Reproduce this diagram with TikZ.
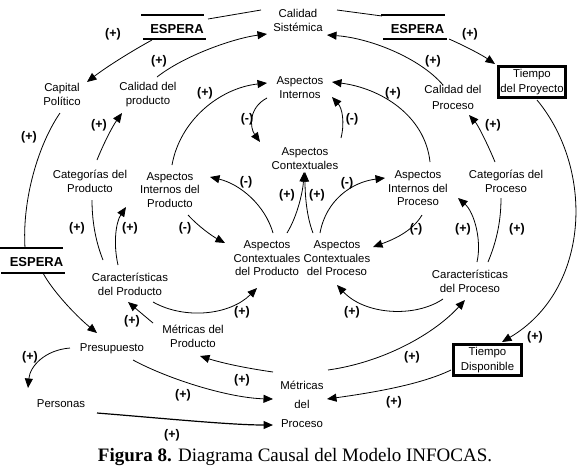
\documentclass[tikz,border=0pt]{standalone}
\usepackage{fontspec}
\setmainfont{Liberation Sans}
\newfontfamily\capfont{Liberation Serif}
\usetikzlibrary{arrows.meta,calc}
\tikzset{
  lbl/.style={align=center, inner sep=0pt, font=\fontsize{11.4}{14}\selectfont},
  lbltight/.style={lbl, font=\fontsize{11.4}{13.5}\selectfont},
  sgn/.style={inner sep=0pt, font=\bfseries\fontsize{12.5}{14}\selectfont},
  esp/.style={inner sep=0pt, font=\bfseries\fontsize{13}{15}\selectfont},
  bar/.style={line width=2.5pt},
  con/.style={line width=0.8pt},
  arr/.style={con, -{Triangle[length=9.5pt,width=8pt]}},
  tbox/.style={draw, line width=3pt, inner sep=0pt, align=center,
    font=\fontsize{11.4}{15}\selectfont, minimum width=67pt, minimum height=31pt},
}
\begin{document}
\begin{tikzpicture}[x=1pt,y=-1pt]
\useasboundingbox[fill=white] (0,0) rectangle (580,475);

% nodes
\node[lbl] (cs) at (298,20) {Calidad\\Sistémica};
\node[lbl] (cp) at (62,94.5) {Capital\\Político};
\node[lbl] (cpr) at (148,94.5) {Calidad del\\producto};
\node[lbl, font=\fontsize{11.4}{16}\selectfont] (cpc) at (453,97.5) {Calidad del\\Proceso};
\node[tbox] (tp) at (532,82) {Tiempo\\del Proyecto};
\node[lbl] (ai) at (300,88) {Aspectos\\Internos};
\node[lbl] (ac) at (305,159) {Aspectos\\Contextuales};
\node[lbltight] (aip) at (170,190) {Aspectos\\Internos del\\Producto};
\node[lbl] (catp) at (90,181.5) {Categorías del\\Producto};
\node[lbl] (carp) at (130,284.5) {Características\\del Producto};
\node[lbltight] (acp) at (267,258.5) {Aspectos\\Contextuales\\del Producto};
\node[lbltight] (acpc) at (337,258.5) {Aspectos\\Contextuales\\del Proceso};
\node[lbltight] (aipc) at (418,188.5) {Aspectos\\Internos del\\Proceso};
\node[lbl] (catpc) at (506,181.5) {Categorías del\\Proceso};
\node[lbl] (carpc) at (470,281.5) {Características\\del Proceso};
\node[lbl] (mp) at (193,336.5) {Métricas del\\Producto};
\node[lbl] (pres) at (112,349) {Presupuesto};
\node[lbl] (pers) at (61,404) {Personas};
\node[lbl, font=\fontsize{11.4}{19}\selectfont] (mpc) at (302,404) {Métricas\\del\\Proceso};
\node[tbox, line width=2.8pt, minimum width=68pt, minimum height=31pt] (td) at (487.5,360) {Tiempo\\Disponible};

% ESPERA delays
\node[esp] (e1) at (177,29) {ESPERA};
\node[esp] (e2) at (417.5,29) {ESPERA};
\node[esp] (e3) at (36.5,262) {ESPERA};
\draw[bar] ($(e1)+(-36,-14)$) -- ($(e1)+(27,-14)$);
\draw[bar] ($(e1)+(-34,10)$) -- ($(e1)+(29,10)$);
\draw[bar] ($(e2)+(-36.5,-14)$) -- ($(e2)+(27.5,-14)$);
\draw[bar] ($(e2)+(-34.5,10)$) -- ($(e2)+(29.5,10)$);
\draw[bar] ($(e3)+(-36.5,-14)$) -- ($(e3)+(26.5,-14)$);
\draw[bar] ($(e3)+(-35.5,11)$) -- ($(e3)+(28.5,11)$);

% connectors
\draw[con] ($(cs)+(-37,-10)$) -- ($(e1)+(31,-10)$);
\draw[arr] ($(e1)+(-25,11)$) .. controls (130,52) and (105,68) .. ($(cp)+(25,-12.5)$);
\draw[con] ($(cs)+(39,-10)$) -- ($(e2)+(-35.5,-13)$);
\draw[arr] ($(e2)+(31.5,10)$) .. controls (465,46) and (482,55) .. ($(tp)+(-37,-18)$);
\draw[arr] ($(cpr)+(9,-17.5)$) .. controls (185,55) and (235,38) .. ($(cs)+(-31,14)$);
\draw[arr] ($(cpc)+(-10,-12.5)$) .. controls (420,58) and (370,38) .. ($(cs)+(29,15)$);
\draw[con] ($(cp)+(-2,18.5)$) .. controls (38,145) and (22,200) .. ($(e3)+(-11.5,-14)$);
\draw[arr] ($(e3)+(6.5,11)$) .. controls (52,290) and (75,315) .. ($(pres)+(-15,-16)$);
\draw[arr] ($(catp)+(7,-21.5)$) .. controls (103,145) and (112,127) .. ($(cpr)+(-26,18.5)$);
\draw[con] ($(catp)+(2,18.5)$) .. controls (92,225) and (97,245) .. ($(carp)+(-27,-24.5)$);
\draw[arr] ($(carp)+(-12,-19.5)$) .. controls (113,243) and (116,222) .. ($(aip)+(-44,17)$);
\draw[arr] ($(aip)+(2,-25)$) .. controls (180,120) and (220,88) .. ($(ai)+(-33,-5)$);
\draw[arr] ($(aip)+(18,25)$) .. controls (198,226) and (212,236) .. ($(acp)+(-42,-15.5)$);
\draw[arr] ($(acp)+(6,-25.5)$) .. controls (265,205) and (240,184) .. ($(aip)+(40,-13)$);
\draw[arr] ($(acp)+(20,-25.5)$) .. controls (298,215) and (303,190) .. ($(ac)+(-1,13)$);
\draw[arr] ($(acpc)+(-24,-25.5)$) .. controls (306,215) and (305,192) .. ($(ac)+(0,13)$);
\draw[arr] ($(acpc)+(-17,-25.5)$) .. controls (326,200) and (352,182) .. ($(aipc)+(-33,-10.5)$);
\draw[arr] ($(aipc)+(4,26.5)$) .. controls (412,232) and (392,240) .. ($(acpc)+(36,-11.5)$);
\draw[arr] ($(aipc)+(12,-26.5)$) .. controls (425,115) and (380,88) .. ($(ai)+(32,-6)$);
\draw[arr] ($(ai)+(-33,10)$) .. controls (248,108) and (250,128) .. ($(ac)+(-45,-17)$);
\draw[arr] ($(ac)+(36,-21)$) .. controls (345,122) and (342,108) .. ($(ai)+(32,9)$);
\draw[arr] ($(catpc)+(-11,-19.5)$) .. controls (488,145) and (478,125) .. ($(cpc)+(16,17.5)$);
\draw[con] ($(catpc)+(-5,16.5)$) .. controls (501,225) and (495,245) .. ($(carpc)+(18,-19.5)$);
\draw[arr] ($(carpc)+(7,-19.5)$) .. controls (482,240) and (474,212) .. ($(aipc)+(40,9.5)$);
\draw[arr] ($(tp)+(5,18)$) .. controls (595,170) and (590,290) .. ($(td)+(14.5,-18)$);
\draw[arr] ($(carp)+(23,17.5)$) .. controls (185,320) and (230,315) .. ($(acp)+(-10,29.5)$);
\draw[arr] ($(carpc)+(-27,17.5)$) .. controls (415,318) and (365,315) .. ($(acpc)+(0,26.5)$);
\draw[arr] ($(mp)+(-40,-13.5)$) -- ($(carp)+(-2,17.5)$);
\draw[arr] ($(mpc)+(-29,-32)$) .. controls (245,368) and (222,363) .. ($(mp)+(7,19.5)$);
\draw[arr] ($(mpc)+(26,-34)$) .. controls (385,362) and (435,333) .. ($(carpc)+(-5,18.5)$);
\draw[arr] ($(pres)+(21,11)$) .. controls (170,380) and (230,398) .. ($(mpc)+(-29,-5)$);
\draw[arr] ($(td)+(-36.5,10)$) .. controls (420,385) and (370,393) .. ($(mpc)+(25,-5)$);
\draw[arr] ($(pres)+(-42,-1)$) .. controls (45,350) and (30,366) .. ($(pers)+(-33,-16)$);
\draw[arr, line width=1.2pt] ($(pers)+(36,9)$) .. controls (160,418) and (230,425) .. ($(mpc)+(-29,21)$);

% polarity signs
\node[sgn] (s1) at (113,34) {(+)};
\node[sgn] (s2) at (470,34) {(+)};
\node[sgn] (s3) at (159,61) {(+)};
\node[sgn] (s4) at (433,61) {(+)};
\node[sgn] (s5) at (29,137) {(+)};
\node[sgn] (s6) at (99,125) {(+)};
\node[sgn] (s7) at (205,93) {(+)};
\node[sgn] (s8) at (393,93) {(+)};
\node[sgn] (s9) at (493,125) {(+)};
\node[sgn] (s10) at (247,119) {(-)};
\node[sgn] (s11) at (352,119) {(-)};
\node[sgn] (s12) at (246,182) {(-)};
\node[sgn] (s13) at (347,183) {(-)};
\node[sgn] (s14) at (287,195) {(+)};
\node[sgn] (s15) at (317,195) {(+)};
\node[sgn] (s16) at (77,228) {(+)};
\node[sgn] (s17) at (130,228) {(+)};
\node[sgn] (s18) at (185,228) {(-)};
\node[sgn] (s19) at (416,229) {(-)};
\node[sgn] (s20) at (463,229) {(+)};
\node[sgn] (s21) at (517,229) {(+)};
\node[sgn] (s22) at (242,312) {(+)};
\node[sgn] (s23) at (352,312) {(+)};
\node[sgn] (s24) at (132,321) {(+)};
\node[sgn] (s25) at (535,337) {(+)};
\node[sgn] (s26) at (242,380) {(+)};
\node[sgn] (s27) at (412,357) {(+)};
\node[sgn] (s28) at (30,357) {(+)};
\node[sgn] (s29) at (183,395) {(+)};
\node[sgn] (s30) at (394,402) {(+)};
\node[sgn] (s31) at (172,435) {(+)};

% caption
\node[inner sep=0pt, font=\capfont\fontsize{19}{22}\selectfont] (cap) at (295,457)
  {\textbf{Figura 8.} Diagrama Causal del Modelo INFOCAS.};
\end{tikzpicture}
\end{document}
